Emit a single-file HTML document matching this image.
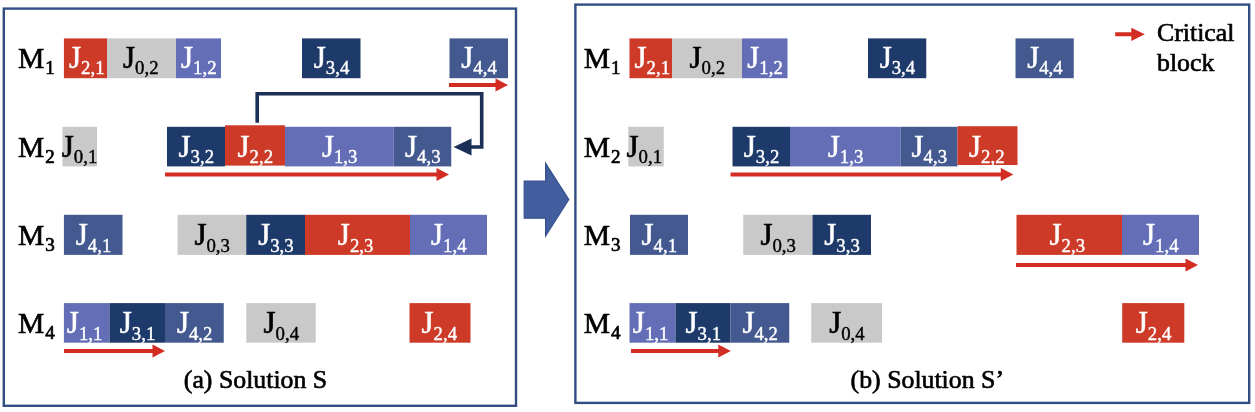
<!DOCTYPE html>
<html><head><meta charset="utf-8"><title>Critical block</title>
<style>
html,body{margin:0;padding:0;background:#fff;}
body{width:1255px;height:412px;overflow:hidden;}
svg{display:block;filter:blur(0.4px);}
text{font-family:"Liberation Serif",serif;stroke-width:0.5px;paint-order:stroke fill;}
text[fill="#000"]{stroke:#000;stroke-width:0.65px;}
text[fill="#fff"]{stroke:#fff;}
tspan.s{stroke-width:0.4px;}
text.m{stroke-width:0.65px;}
text.m tspan.s{stroke-width:0.7px;}
</style></head><body>
<svg width="1255" height="412" viewBox="0 0 1255 412">
<rect x="0" y="0" width="1255" height="412" fill="#fff"/>
<rect x="3.8" y="8.6" width="512.2" height="397.2" fill="#fff" stroke="#324D82" stroke-width="2.4"/>
<rect x="575.4" y="4.6" width="673.8000000000001" height="398.29999999999995" fill="#fff" stroke="#324D82" stroke-width="2.4"/>
<rect x="63.9" y="38.4" width="43.1" height="39.800000000000004" fill="#CE3A28"/>
<rect x="107" y="38.4" width="69" height="39.800000000000004" fill="#C9C9C9"/>
<rect x="176" y="38.4" width="45" height="39.800000000000004" fill="#646EB6"/>
<rect x="302" y="38.4" width="58.5" height="39.800000000000004" fill="#1E3A6A"/>
<rect x="449.5" y="38.4" width="58.5" height="39.800000000000004" fill="#43598F"/>
<rect x="62.5" y="126.8" width="34.5" height="39.60000000000001" fill="#C9C9C9"/>
<rect x="167" y="126.8" width="58" height="39.60000000000001" fill="#1E3A6A"/>
<rect x="225" y="125.3" width="60" height="40.3" fill="#CE3A28"/>
<rect x="285" y="126.8" width="108.75" height="39.60000000000001" fill="#646EB6"/>
<rect x="393.75" y="126.8" width="57.5" height="39.60000000000001" fill="#43598F"/>
<rect x="63.9" y="214.8" width="58.6" height="40.099999999999994" fill="#43598F"/>
<rect x="177.5" y="214.8" width="68.75" height="40.099999999999994" fill="#C9C9C9"/>
<rect x="246.25" y="214.8" width="58.75" height="40.099999999999994" fill="#1E3A6A"/>
<rect x="305" y="214.8" width="105" height="40.099999999999994" fill="#CE3A28"/>
<rect x="410" y="214.8" width="77" height="40.099999999999994" fill="#646EB6"/>
<rect x="63.9" y="303.1" width="45.6" height="39.599999999999966" fill="#646EB6"/>
<rect x="109.5" y="303.1" width="55.5" height="39.599999999999966" fill="#1E3A6A"/>
<rect x="165" y="303.1" width="58.75" height="39.599999999999966" fill="#43598F"/>
<rect x="246.25" y="303.1" width="69.5" height="39.599999999999966" fill="#C9C9C9"/>
<rect x="409.5" y="303.1" width="61.0" height="39.599999999999966" fill="#CE3A28"/>
<rect x="629.5" y="38.4" width="42.5" height="39.800000000000004" fill="#CE3A28"/>
<rect x="672" y="38.4" width="70" height="39.800000000000004" fill="#C9C9C9"/>
<rect x="742" y="38.4" width="45.5" height="39.800000000000004" fill="#646EB6"/>
<rect x="868" y="38.4" width="58.25" height="39.800000000000004" fill="#1E3A6A"/>
<rect x="1015.5" y="38.4" width="58.25" height="39.800000000000004" fill="#43598F"/>
<rect x="628.25" y="126.8" width="35.5" height="39.60000000000001" fill="#C9C9C9"/>
<rect x="732.5" y="126.8" width="57.5" height="39.60000000000001" fill="#1E3A6A"/>
<rect x="790" y="126.8" width="110.5" height="39.60000000000001" fill="#646EB6"/>
<rect x="900.5" y="126.8" width="57.0" height="39.60000000000001" fill="#43598F"/>
<rect x="957.5" y="126.2" width="60.0" height="38.8" fill="#CE3A28"/>
<rect x="630" y="214.8" width="58" height="40.099999999999994" fill="#43598F"/>
<rect x="743.25" y="214.8" width="69.25" height="40.099999999999994" fill="#C9C9C9"/>
<rect x="812.5" y="214.8" width="58.5" height="40.099999999999994" fill="#1E3A6A"/>
<rect x="1016.5" y="214.8" width="105.5" height="40.099999999999994" fill="#CE3A28"/>
<rect x="1122" y="214.8" width="77" height="40.099999999999994" fill="#646EB6"/>
<rect x="629.5" y="303.1" width="46.0" height="39.599999999999966" fill="#646EB6"/>
<rect x="675.5" y="303.1" width="55.0" height="39.599999999999966" fill="#1E3A6A"/>
<rect x="730.5" y="303.1" width="58.75" height="39.599999999999966" fill="#43598F"/>
<rect x="811.25" y="303.1" width="70.75" height="39.599999999999966" fill="#C9C9C9"/>
<rect x="1122.2" y="303.1" width="62.09999999999991" height="39.599999999999966" fill="#CE3A28"/>
<text x="68.97" y="67.9" fill="#fff" font-size="31">J<tspan class="s" font-size="18.8" dy="6.3">2,1</tspan></text>
<text x="123.02" y="67.9" fill="#000" font-size="31">J<tspan class="s" font-size="18.8" dy="6.3">0,2</tspan></text>
<text x="181.02" y="67.9" fill="#fff" font-size="31">J<tspan class="s" font-size="18.8" dy="6.3">1,2</tspan></text>
<text x="313.77" y="67.9" fill="#fff" font-size="31">J<tspan class="s" font-size="18.8" dy="6.3">3,4</tspan></text>
<text x="461.27" y="67.9" fill="#fff" font-size="31">J<tspan class="s" font-size="18.8" dy="6.3">4,4</tspan></text>
<text x="61.77" y="157.0" fill="#000" font-size="31">J<tspan class="s" font-size="18.8" dy="6.3">0,1</tspan></text>
<text x="178.52" y="157.0" fill="#fff" font-size="31">J<tspan class="s" font-size="18.8" dy="6.3">3,2</tspan></text>
<text x="237.52" y="157.0" fill="#fff" font-size="31">J<tspan class="s" font-size="18.8" dy="6.3">2,2</tspan></text>
<text x="321.90" y="157.0" fill="#fff" font-size="31">J<tspan class="s" font-size="18.8" dy="6.3">1,3</tspan></text>
<text x="405.02" y="157.0" fill="#fff" font-size="31">J<tspan class="s" font-size="18.8" dy="6.3">4,3</tspan></text>
<text x="75.72" y="245.2" fill="#fff" font-size="31">J<tspan class="s" font-size="18.8" dy="6.3">4,1</tspan></text>
<text x="194.40" y="245.2" fill="#000" font-size="31">J<tspan class="s" font-size="18.8" dy="6.3">0,3</tspan></text>
<text x="258.15" y="245.2" fill="#fff" font-size="31">J<tspan class="s" font-size="18.8" dy="6.3">3,3</tspan></text>
<text x="337.82" y="245.2" fill="#fff" font-size="31">J<tspan class="s" font-size="18.8" dy="6.3">2,3</tspan></text>
<text x="431.02" y="245.2" fill="#fff" font-size="31">J<tspan class="s" font-size="18.8" dy="6.3">1,4</tspan></text>
<text x="66.82" y="333.2" fill="#fff" font-size="31">J<tspan class="s" font-size="18.8" dy="6.3">1,1</tspan></text>
<text x="119.77" y="333.2" fill="#fff" font-size="31">J<tspan class="s" font-size="18.8" dy="6.3">3,1</tspan></text>
<text x="176.90" y="333.2" fill="#fff" font-size="31">J<tspan class="s" font-size="18.8" dy="6.3">4,2</tspan></text>
<text x="263.52" y="333.2" fill="#000" font-size="31">J<tspan class="s" font-size="18.8" dy="6.3">0,4</tspan></text>
<text x="421.52" y="333.2" fill="#fff" font-size="31">J<tspan class="s" font-size="18.8" dy="6.3">2,4</tspan></text>
<text x="634.47" y="67.9" fill="#fff" font-size="31">J<tspan class="s" font-size="18.8" dy="6.3">2,1</tspan></text>
<text x="689.52" y="67.9" fill="#000" font-size="31">J<tspan class="s" font-size="18.8" dy="6.3">0,2</tspan></text>
<text x="747.27" y="67.9" fill="#fff" font-size="31">J<tspan class="s" font-size="18.8" dy="6.3">1,2</tspan></text>
<text x="879.65" y="67.9" fill="#fff" font-size="31">J<tspan class="s" font-size="18.8" dy="6.3">3,4</tspan></text>
<text x="1027.15" y="67.9" fill="#fff" font-size="31">J<tspan class="s" font-size="18.8" dy="6.3">4,4</tspan></text>
<text x="626.52" y="157.0" fill="#000" font-size="31">J<tspan class="s" font-size="18.8" dy="6.3">0,1</tspan></text>
<text x="743.77" y="157.0" fill="#fff" font-size="31">J<tspan class="s" font-size="18.8" dy="6.3">3,2</tspan></text>
<text x="827.77" y="157.0" fill="#fff" font-size="31">J<tspan class="s" font-size="18.8" dy="6.3">1,3</tspan></text>
<text x="911.52" y="157.0" fill="#fff" font-size="31">J<tspan class="s" font-size="18.8" dy="6.3">4,3</tspan></text>
<text x="969.02" y="157.0" fill="#fff" font-size="31">J<tspan class="s" font-size="18.8" dy="6.3">2,2</tspan></text>
<text x="641.52" y="245.2" fill="#fff" font-size="31">J<tspan class="s" font-size="18.8" dy="6.3">4,1</tspan></text>
<text x="760.40" y="245.2" fill="#000" font-size="31">J<tspan class="s" font-size="18.8" dy="6.3">0,3</tspan></text>
<text x="824.27" y="245.2" fill="#fff" font-size="31">J<tspan class="s" font-size="18.8" dy="6.3">3,3</tspan></text>
<text x="1049.47" y="245.2" fill="#fff" font-size="31">J<tspan class="s" font-size="18.8" dy="6.3">2,3</tspan></text>
<text x="1143.02" y="245.2" fill="#fff" font-size="31">J<tspan class="s" font-size="18.8" dy="6.3">1,4</tspan></text>
<text x="632.82" y="333.2" fill="#fff" font-size="31">J<tspan class="s" font-size="18.8" dy="6.3">1,1</tspan></text>
<text x="685.52" y="333.2" fill="#fff" font-size="31">J<tspan class="s" font-size="18.8" dy="6.3">3,1</tspan></text>
<text x="742.40" y="333.2" fill="#fff" font-size="31">J<tspan class="s" font-size="18.8" dy="6.3">4,2</tspan></text>
<text x="829.15" y="333.2" fill="#000" font-size="31">J<tspan class="s" font-size="18.8" dy="6.3">0,4</tspan></text>
<text x="1135.77" y="333.2" fill="#fff" font-size="31">J<tspan class="s" font-size="18.8" dy="6.3">2,4</tspan></text>
<text class="m" x="18.1" y="67.9" fill="#000" font-size="29.6">M<tspan class="s" font-size="19" dy="6.2" dx="0.9">1</tspan></text>
<text class="m" x="583.8" y="67.9" fill="#000" font-size="29.6">M<tspan class="s" font-size="19" dy="6.2" dx="0.9">1</tspan></text>
<text class="m" x="18.1" y="157.0" fill="#000" font-size="29.6">M<tspan class="s" font-size="19" dy="6.2" dx="0.9">2</tspan></text>
<text class="m" x="583.8" y="157.0" fill="#000" font-size="29.6">M<tspan class="s" font-size="19" dy="6.2" dx="0.9">2</tspan></text>
<text class="m" x="18.1" y="245.2" fill="#000" font-size="29.6">M<tspan class="s" font-size="19" dy="6.2" dx="0.9">3</tspan></text>
<text class="m" x="583.8" y="245.2" fill="#000" font-size="29.6">M<tspan class="s" font-size="19" dy="6.2" dx="0.9">3</tspan></text>
<text class="m" x="18.1" y="333.2" fill="#000" font-size="29.6">M<tspan class="s" font-size="19" dy="6.2" dx="0.9">4</tspan></text>
<text class="m" x="583.8" y="333.2" fill="#000" font-size="29.6">M<tspan class="s" font-size="19" dy="6.2" dx="0.9">4</tspan></text>
<path d="M449 83.0 H495.5 V78.5 L508 85 L495.5 91.5 V87.0 H449 Z" fill="#D32C22"/>
<path d="M165 172.5 H436.5 V168.0 L449 174.5 L436.5 181.0 V176.5 H165 Z" fill="#D32C22"/>
<path d="M64 349.0 H152.5 V344.5 L165 351 L152.5 357.5 V353.0 H64 Z" fill="#D32C22"/>
<path d="M631 349.0 H718.3 V344.5 L730.8 351 L718.3 357.5 V353.0 H631 Z" fill="#D32C22"/>
<path d="M730.5 172.5 H1000.8 V168.0 L1013.3 174.5 L1000.8 181.0 V176.5 H730.5 Z" fill="#D32C22"/>
<path d="M1016 263.0 H1185.5 V258.5 L1198 265 L1185.5 271.5 V267.0 H1016 Z" fill="#D32C22"/>
<path d="M1115.2 32.3 H1131.3 V27.699999999999996 L1144.8 34.3 L1131.3 40.9 V36.3 H1115.2 Z" fill="#D32C22"/>
<path d="M257.2 122.8 V93.7 H481.7 V147 H468" fill="none" stroke="#1B2F57" stroke-width="3.6"/>
<path d="M453.5 147 L471.5 138.5 V155.5 Z" fill="#1B2F57"/>
<path d="M524.2 181 H545.6 V163.2 L568.8 199.6 L545.6 236 V218.2 H524.2 Z" fill="#425E9F" stroke="#35508E" stroke-width="1.2" stroke-linejoin="miter"/>
<text x="255.5" y="388" font-size="25.8" text-anchor="middle" fill="#000">(a) Solution S</text>
<text x="927.3" y="388.2" font-size="25.8" text-anchor="middle" fill="#000">(b) Solution S’</text>
<text x="1157" y="40.8" font-size="25.8" fill="#000">Critical</text>
<text x="1157" y="71.3" font-size="25.8" fill="#000">block</text>
</svg>
</body></html>
